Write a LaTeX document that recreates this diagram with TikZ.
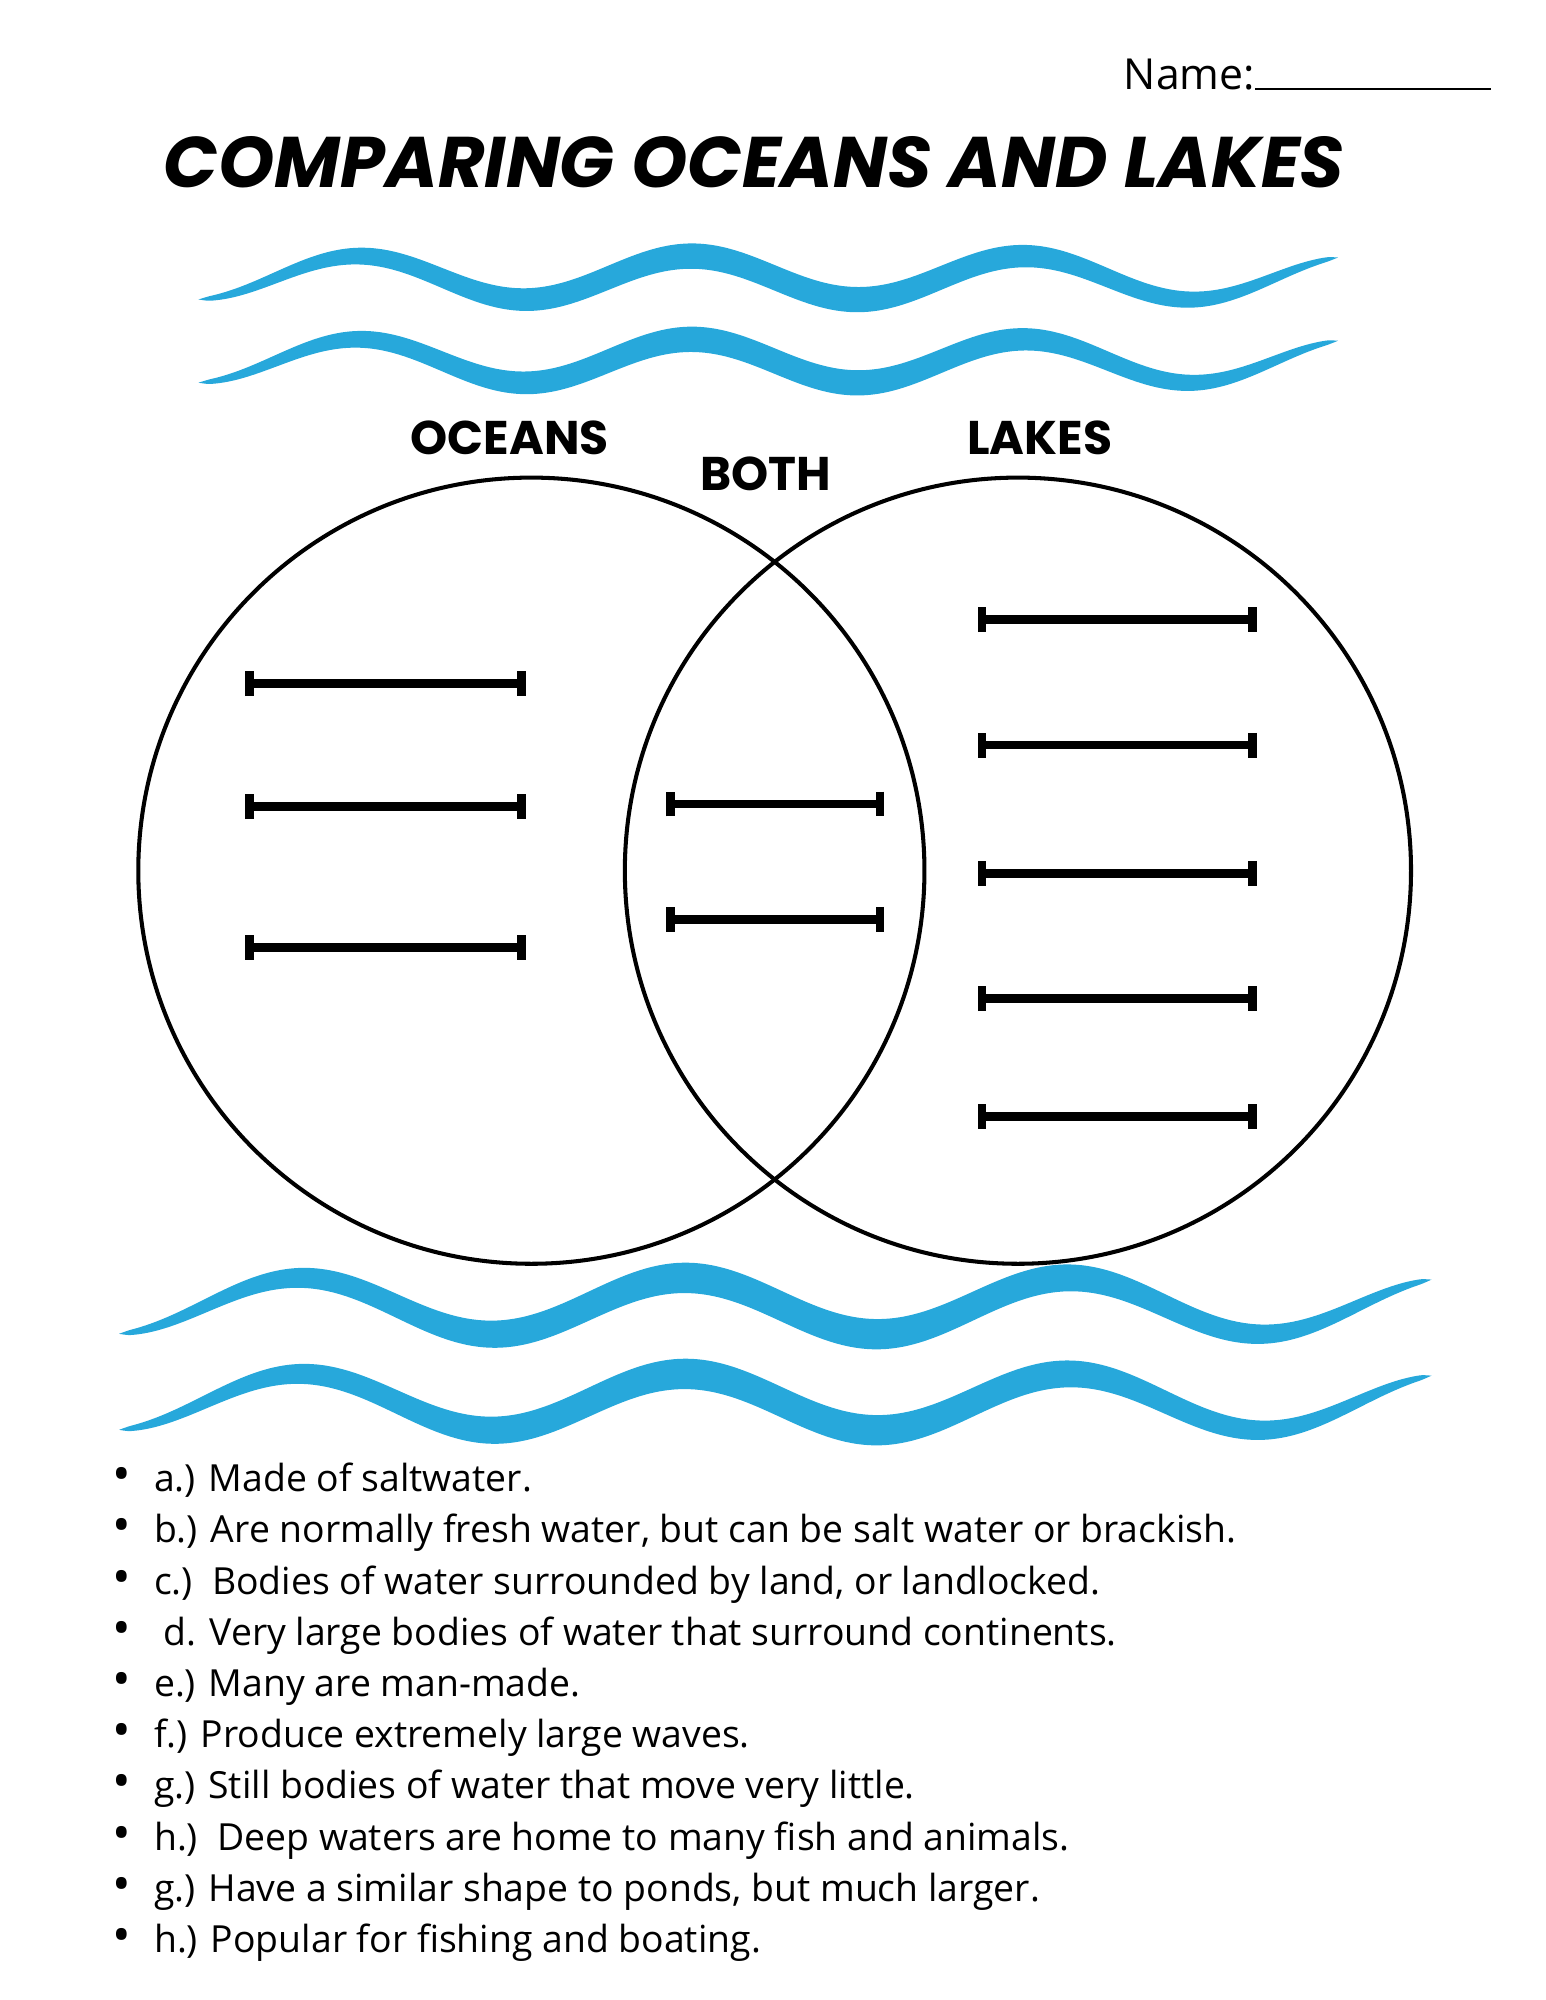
\documentclass[tikz,border=0pt]{standalone}
\usepackage{fontspec}
\usepackage{graphicx}
\setmainfont{Open Sans}
\newfontfamily\titlefont{Poppins}
\usetikzlibrary{arrows.meta}
\definecolor{wave}{HTML}{27A8DB}
\tikzset{
  blank/.style={line width=3.8pt,{Bar[width=11pt]}-{Bar[width=11pt]},shorten <=-2pt,shorten >=-2pt},
  ring/.style={line width=1.8pt},
  item/.style={anchor=base west,font=\fontsize{16.6}{18}\selectfont,inner sep=0},
  bul/.style={anchor=base,font=\fontsize{22}{24}\selectfont,inner sep=0},
  head/.style={font=\titlefont\bfseries\fontsize{21}{23}\selectfont,inner sep=0}
}
\begin{document}
\begin{tikzpicture}[x=0.02cm,y=-0.02cm]
\useasboundingbox (0,0) rectangle (1207,1562);
\foreach \dy in {0,65}{
\fill[wave] plot[domain=155:1045,samples=120,smooth] ({\x},{217+\dy-17*cos((\x-280)*1.3846)-10*sqrt(max(0,sin((\x-155)*0.20225)))})
 -- plot[domain=1045:155,samples=120,smooth] ({\x},{217+\dy-17*cos((\x-280)*1.3846)+10*sqrt(max(0,sin((\x-155)*0.20225)))}) -- cycle;
}
\foreach \dy in {0,75}{
\fill[wave] plot[domain=93:1118,samples=140,smooth] ({\x},{1020+\dy-22*cos((\x-235)*1.2)-12*sqrt(max(0,sin((\x-93)*0.17561)))})
 -- plot[domain=1118:93,samples=140,smooth] ({\x},{1020+\dy-22*cos((\x-235)*1.2)+12*sqrt(max(0,sin((\x-93)*0.17561)))}) -- cycle;
}
\node[anchor=base east,font=\fontsize{19}{22}\selectfont,inner sep=0] (name) at (1165,70) {Name:\rule{105pt}{0.8pt}};
\node[inner sep=0] (title) at (589,127) {\resizebox{18.44cm}{!}{\titlefont\bfseries\itshape COMPARING OCEANS AND LAKES}};
\node[head] (oc) at (398,342) {OCEANS};
\node[head] (both) at (598,370) {BOTH};
\node[head] (lk) at (812,342) {LAKES};
\draw[ring] (415,680) circle (307);
\draw[ring] (795,680) circle (307);
\foreach \y in {534,630,740} \draw[blank] (195,\y) -- (407,\y);
\foreach \y in {628,718} \draw[blank] (524,\y) -- (687,\y);
\foreach \y in {484,582,682,780,872} \draw[blank] (767,\y) -- (978,\y);
\foreach [count=\i] \t in {a.) Made of saltwater.,
 {b.) Are normally fresh water, but can be salt water or brackish.},
 {c.)\ \ Bodies of water surrounded by land, or landlocked.},
 {\ d. Very large bodies of water that surround continents.},
 e.) Many are man-made.,
 f.) Produce extremely large waves.,
 g.) Still bodies of water that move very little.,
 h.)\ \ Deep waters are home to many fish and animals.,
 {g.) Have a similar shape to ponds, but much larger.},
 h.) Popular for fishing and boating.}{
 \node[bul] (b\i) at (95,{1165+40*(\i-1)}) {•};
 \node[item] (t\i) at (120,{1165+40*(\i-1)}) {\t};
}
\end{tikzpicture}
\end{document}
